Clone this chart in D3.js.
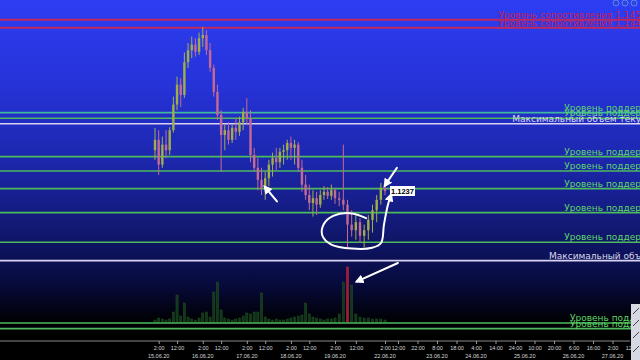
<!DOCTYPE html>
<html><head><meta charset="utf-8">
<script src="https://cdn.jsdelivr.net/npm/d3@7"></script>
<style>html,body{margin:0;padding:0;background:#000;}svg{display:block;}</style>
</head><body><svg id="c" width="640" height="360"></svg>
<script>
// ---- data ----
const candleHours = [0,2,4,6,8,10,12,14,16,18,20,22,24,26,28,30,32,34,36,38,40,42,44,46,48,50,52,54,56,58,60,62,64,66,68,70,72,74,76,78,80,82,84,86,88,90,92,94,96,98,100,102,104,106,108,110,112,114,116,118,120,122];
const opens  = [1.1288,1.1301,1.1270,1.1295,1.1288,1.1313,1.1345,1.1370,1.1357,1.1398,1.1413,1.1420,1.1411,1.1428,1.1432,1.1413,1.1391,1.1361,1.1332,1.1307,1.1313,1.1301,1.1316,1.1311,1.1323,1.1336,1.1328,1.1282,1.1266,1.1251,1.1241,1.1253,1.1270,1.1278,1.1273,1.1286,1.1288,1.1297,1.1291,1.1295,1.1266,1.1245,1.1232,1.1222,1.1228,1.1220,1.1232,1.1236,1.1231,1.1238,1.1228,1.1226,1.1220,1.1195,1.1188,1.1198,1.1181,1.1188,1.1201,1.1213,1.1226,1.1241];
const highs  = [1.1316,1.1313,1.1305,1.1313,1.1317,1.1355,1.1380,1.1378,1.1410,1.1422,1.1430,1.1428,1.1435,1.1442,1.1438,1.1422,1.1395,1.1370,1.1338,1.1320,1.1323,1.1320,1.1328,1.1330,1.1341,1.1353,1.1338,1.1291,1.1278,1.1266,1.1261,1.1276,1.1285,1.1291,1.1291,1.1295,1.1301,1.1305,1.1301,1.1298,1.1276,1.1257,1.1245,1.1238,1.1236,1.1238,1.1243,1.1242,1.1245,1.1241,1.1236,1.1295,1.1226,1.1213,1.1207,1.1203,1.1195,1.1207,1.1220,1.1232,1.1247,1.1253];
const lows   = [1.1276,1.1257,1.1266,1.1278,1.1282,1.1310,1.1338,1.1342,1.1353,1.1391,1.1403,1.1405,1.1407,1.1417,1.1407,1.1386,1.1355,1.1326,1.1261,1.1288,1.1295,1.1297,1.1301,1.1306,1.1313,1.1320,1.1273,1.1261,1.1238,1.1232,1.1226,1.1243,1.1255,1.1263,1.1266,1.1270,1.1276,1.1276,1.1270,1.1261,1.1236,1.1226,1.1213,1.1205,1.1207,1.1216,1.1226,1.1227,1.1226,1.1221,1.1218,1.1213,1.1167,1.1180,1.1176,1.1172,1.1167,1.1176,1.1185,1.1198,1.1220,1.1232];
const closes = [1.1301,1.1270,1.1295,1.1288,1.1313,1.1345,1.1370,1.1357,1.1398,1.1413,1.1420,1.1411,1.1428,1.1432,1.1413,1.1391,1.1361,1.1332,1.1307,1.1313,1.1301,1.1316,1.1311,1.1323,1.1336,1.1328,1.1282,1.1266,1.1251,1.1241,1.1253,1.1270,1.1278,1.1273,1.1286,1.1288,1.1297,1.1291,1.1295,1.1266,1.1245,1.1232,1.1222,1.1228,1.1220,1.1232,1.1236,1.1231,1.1238,1.1228,1.1226,1.1220,1.1195,1.1188,1.1198,1.1181,1.1188,1.1201,1.1213,1.1226,1.1241,1.1237];
const volumes = [2,4,3,2,3,10,27,6,19,5,3,2,4,9,10,5,30,40,12,4,3,2,3,4,6,9,8,10,10,29,5,3,2,3,2,2,3,4,5,6,7,19,8,5,4,3,2,3,3,4,8,40,55,37,8,5,4,4,3,3,3,2];
const maxVolumeHour = 104;

const levelPrices = [1.1451,1.1441,1.1335,1.1328,1.1321,1.1280,1.1262,1.1240,1.1210,1.1173,1.1150,1.1072,1.1065];
const levelKinds  = ['res','res','sup','sup','max','sup','sup','sup','sup','sup','max','sup','sup'];
const levelLabels = ['Уровень сопротивления 1.145','Уровень сопротивления 1.144','Уровень поддер','Уровень поддер','Максимальный объем теку','Уровень поддер','Уровень поддер','Уровень поддер','Уровень поддер','Уровень поддер','Максимальный объ','Уровень подде','Уровень подде'];

const tickHours  = [2,12,26,36,50,60,74,84,98,108,122,132,142,152,162,172,182,192,202,212,222,232,242,252];
const tickLabels = ['2:00','12:00','2:00','12:00','2:00','12:00','2:00','12:00','2:00','12:00','2:00','12:00','22:00','8:00','18:00','4:00','14:00','24:00','10:00','20:00','6:00','16:00','2:00','12:00'];
const dateHours  = [2,26,50,74,98,122,152,172,197,222,242];
const dateLabels = ['15.06.20','16.06.20','17.06.20','18.06.20','19.06.20','22.06.20','23.06.20','24.06.20','25.06.20','26.06.20','27.06.20'];

// hand-drawn annotations in (hour, price)
const arrowFrom = [[66.4,1.1224],[131.2,1.1266],[131.9,1.1147]];
const arrowTo   = [[59.9,1.1242],[122.0,1.1244],[108.6,1.1124]];
const loopPts = [[112.9,1.1203],[106.2,1.1209],[97,1.1206],[92.0,1.1196],[91.0,1.1182],[96.0,1.1170],[106.2,1.1165],[115.8,1.1166],[120.1,1.1172],[121.5,1.1195],[124.3,1.1220],[126.6,1.1232]];

// ---- drawing ----
const W = 640, H = 360;
const svg = d3.select('#c');
const x = d3.scaleLinear().domain([0,98,122,132,252]).range([155,335,385,398,632]);
const y = d3.scaleLinear().domain([1.1000,1.1500]).range([380.6,-19.4]);
const yVol = d3.scaleLinear().domain([0,60]).range([322,262]);

const defs = svg.append('defs');
const g = defs.append('linearGradient').attr('id','bg').attr('x1',0).attr('y1',0).attr('x2',0).attr('y2',1);
[[0,'#2d3df3'],[0.25,'#2633d8'],[0.5,'#1b25a8'],[0.7,'#10176c'],[0.85,'#070a3a'],[0.96,'#000000']]
  .forEach(s=>g.append('stop').attr('offset',s[0]).attr('stop-color',s[1]));
defs.append('marker').attr('id','ah').attr('viewBox','0 0 10 10').attr('refX',7).attr('refY',5)
  .attr('markerWidth',4.5).attr('markerHeight',4.5).attr('orient','auto')
  .append('path').attr('d','M0,0 L10,5 L0,10 z').attr('fill','#fff');

svg.append('rect').attr('width',W).attr('height',H).attr('fill','#000');
svg.append('rect').attr('width',W).attr('height',336).attr('fill','url(#bg)');

// volumes
svg.append('g').selectAll('rect').data(volumes).join('rect')
  .attr('x',(d,i)=>x(candleHours[i])-1.1).attr('width',2.2)
  .attr('y',d=>yVol(d)).attr('height',d=>yVol(0)-yVol(d))
  .attr('fill',(d,i)=>candleHours[i]===maxVolumeHour?'#9a1c38':'#173f1c')
  .attr('stroke',(d,i)=>candleHours[i]===maxVolumeHour?'#b82444':'#24592a').attr('stroke-width',0.5)
  .attr('opacity',(d,i)=>candleHours[i]===maxVolumeHour?1:0.85);

// level lines
const lvlColor = k => k==='res' ? '#c0285e' : k==='max' ? '#d9d2f2' : '#4dba5c';
const txtColor = k => k==='res' ? '#c4205a' : k==='max' ? '#d8d8ee' : '#5fd66a';
const lv = svg.append('g');
levelPrices.forEach((p,i)=>{
  const k = levelKinds[i];
  lv.append('line').attr('x1',0).attr('x2',W).attr('y1',y(p)).attr('y2',y(p))
    .attr('stroke', i===2 ? '#3fb8a0' : lvlColor(k)).attr('stroke-width', k==='res'?2:1.6);
});
levelPrices.forEach((p,i)=>{
  const k = levelKinds[i];
  lv.append('text').attr('x',641).attr('y',y(p)-2).attr('text-anchor','end')
    .attr('font-family','DejaVu Sans').attr('font-size',9)
    .attr('fill',txtColor(k)).text(levelLabels[i]);
});

// candles
const cg = svg.append('g');
candleHours.forEach((h,i)=>{
  const up = closes[i] >= opens[i];
  const col = up ? '#a0ae4a' : '#c46a94';
  cg.append('line').attr('x1',x(h)).attr('x2',x(h)).attr('y1',y(highs[i])).attr('y2',y(lows[i]))
    .attr('stroke',col).attr('stroke-width',1);
  const top = y(Math.max(opens[i],closes[i])), bot = y(Math.min(opens[i],closes[i]));
  cg.append('rect').attr('x',x(h)-1.2).attr('width',2.4).attr('y',top).attr('height',Math.max(1,bot-top))
    .attr('fill',col);
});

// annotations
const an = svg.append('g').attr('fill','none').attr('stroke','#fff').attr('stroke-width',2).attr('stroke-linecap','round');
arrowFrom.forEach((f,i)=>{
  an.append('line').attr('x1',x(f[0])).attr('y1',y(f[1])).attr('x2',x(arrowTo[i][0])).attr('y2',y(arrowTo[i][1]))
    .attr('marker-end','url(#ah)');
});
an.append('path').attr('d', d3.line().x(d=>x(d[0])).y(d=>y(d[1])).curve(d3.curveCatmullRom)(loopPts))
  .attr('marker-end','url(#ah)');

// last price label
const lastI = candleHours.length-1;
const lx = x(candleHours[lastI]) + 5, ly = y(closes[lastI]);
svg.append('rect').attr('x',lx).attr('y',ly-5).attr('width',25).attr('height',10).attr('fill','#fff');
svg.append('text').attr('x',lx+12.5).attr('y',ly+2.5).attr('text-anchor','middle')
  .attr('font-family','Liberation Sans').attr('font-weight','bold').attr('font-size',7.5)
  .attr('fill','#000').text(closes[lastI].toFixed(4));

// axis
svg.append('line').attr('x1',0).attr('x2',630).attr('y1',341).attr('y2',341).attr('stroke','#8a8a8a').attr('stroke-width',1);
const ax = svg.append('g').attr('transform','translate(0,341)')
  .call(d3.axisBottom(x).tickValues(tickHours).tickFormat((d,i)=>tickLabels[i]).tickSizeInner(3).tickSizeOuter(0).tickPadding(2));
ax.select('.domain').remove();
ax.selectAll('line').attr('stroke','#9a9a9a');
ax.selectAll('text').attr('fill','#d8d8d8').attr('font-family','Liberation Sans').attr('font-size',5.5);
svg.append('g').selectAll('text').data(dateLabels).join('text')
  .attr('x',(d,i)=>x(dateHours[i])).attr('y',358).attr('text-anchor','middle')
  .attr('fill','#d8d8d8').attr('font-family','Liberation Sans').attr('font-size',5.5).text(d=>d);

// window buttons and toolbar
[616,625,634].forEach(cx=>svg.append('circle').attr('cx',cx).attr('cy',3).attr('r',3)
  .attr('fill','#2a48d8').attr('stroke','#7090ff').attr('stroke-width',0.8));
svg.append('rect').attr('x',631).attr('y',304).attr('width',9).attr('height',56).attr('fill','#d6d8e2');
[308,320,332,346].forEach(ty=>svg.append('line').attr('x1',633).attr('x2',639).attr('y1',ty+6).attr('y2',ty)
  .attr('stroke','#445').attr('stroke-width',1));
</script></body></html>
